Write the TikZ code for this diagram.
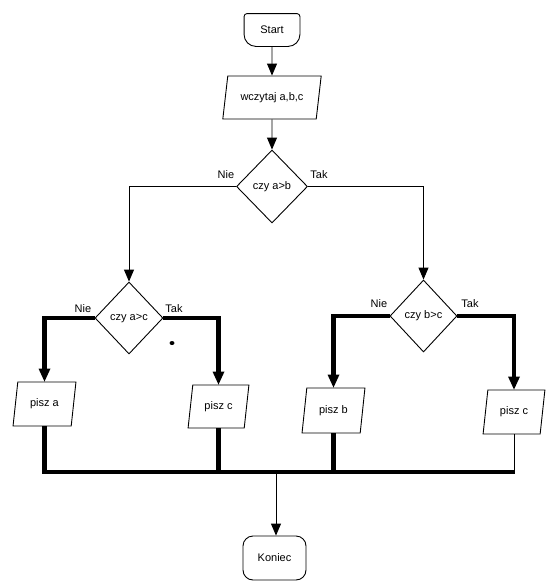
\documentclass[tikz,border=0pt]{standalone}
\usepackage{fontspec}
\setmainfont{Liberation Sans}
\usetikzlibrary{shapes.geometric,arrows.meta}
\tikzstyle{io}=[trapezium,draw,trapezium left angle=76,trapezium right angle=104,trapezium stretches=true,inner sep=0pt]
\tikzstyle{decision}=[diamond,draw,aspect=1,inner sep=0pt]
\tikzstyle{terminal}=[rectangle,inner sep=0pt]
\tikzstyle{lbl}=[inner sep=0pt]
\tikzstyle{flow}=[-{Triangle[length=12pt,width=10pt]}]
\tikzstyle{thickflow}=[line width=4.5pt,-{Triangle[length=13pt,width=12pt,line width=0pt]}]
\tikzstyle{bus}=[line width=4.5pt]

\begin{document}
\begin{tikzpicture}[x=1pt,y=-1pt,line width=0.9pt,font=\fontsize{11}{13}\selectfont]
          \useasboundingbox (0,0) rectangle (552,582);

          \node[terminal,minimum width=55pt,minimum height=32pt] at (272, 30) (start) {Start};
          \node[io,trapezium left angle=71,trapezium right angle=109,minimum width=99pt,minimum height=43pt] at (272, 97.5) (read) {wczytaj a,b,c};
          \node[decision,minimum width=71pt,minimum height=73pt] at (272, 186.5) (ab) {czy a>b};
          \node[decision,minimum width=68pt,minimum height=72pt] at (129, 318) (ac) {czy a>c};
          \node[decision,minimum width=67pt,minimum height=72pt] at (423.5, 316) (bc) {czy b>c};
          \node[io,minimum width=63pt,minimum height=44pt] at (44.5, 404) (piszA) {pisz a};
          \node[io,minimum width=61pt,minimum height=43pt] at (218.5, 406.5) (piszC1) {pisz c};
          \node[io,minimum width=63pt,minimum height=45pt] at (333.5, 410.5) (piszB) {pisz b};
          \node[io,minimum width=62pt,minimum height=44pt] at (514, 412) (piszC2) {pisz c};
          \node[terminal,draw,rounded corners=10pt,minimum width=63pt,minimum height=44pt] at (274.5, 558) (koniec) {Koniec};

          \node[lbl] at (226, 175) (nie1) {Nie};
          \node[lbl] at (319, 175) (tak1) {Tak};
          \node[lbl] at (83, 309) (nie2) {Nie};
          \node[lbl] at (174, 309) (tak2) {Tak};
          \node[lbl] at (379, 304) (nie3) {Nie};
          \node[lbl] at (470, 304) (tak3) {Tak};

          \coordinate (busL) at (45, 472);
          \coordinate (busR) at (515, 472);
          \coordinate (busK) at (276, 472);

          % start box: small top corners, large bottom corners
          \draw (start.west) [rounded corners=3pt] |- (start.north) -| (start.east)
                [rounded corners=12pt] |- (start.south) -| (start.west);

          \draw[flow] (start) -- (read);
          \draw[flow] (read) -- (ab);
          \draw[flow] (ab.west) -| (ac.north);
          \draw[flow] (ab.east) -| (bc.north);
          \draw[thickflow] (ac.west) -| (piszA.north);
          \draw[thickflow] (ac.east) -| (piszC1.north);
          \draw[thickflow] (bc.west) -| (piszB.north);
          \draw[thickflow] (bc.east) -| (piszC2.north);

          \draw[bus] (piszA.south) |- (busR);
          \draw[bus] (piszC1.south) -- (piszC1.south |- busL);
          \draw[bus] (piszB.south) -- (piszB.south |- busL);
          \draw (piszC2.south) -- (piszC2.south |- busR);
          \draw[flow] (busK) -- (busK |- koniec.north);

          \fill (172, 343) ellipse (2.5 and 2);
        \end{tikzpicture}
\end{document}
